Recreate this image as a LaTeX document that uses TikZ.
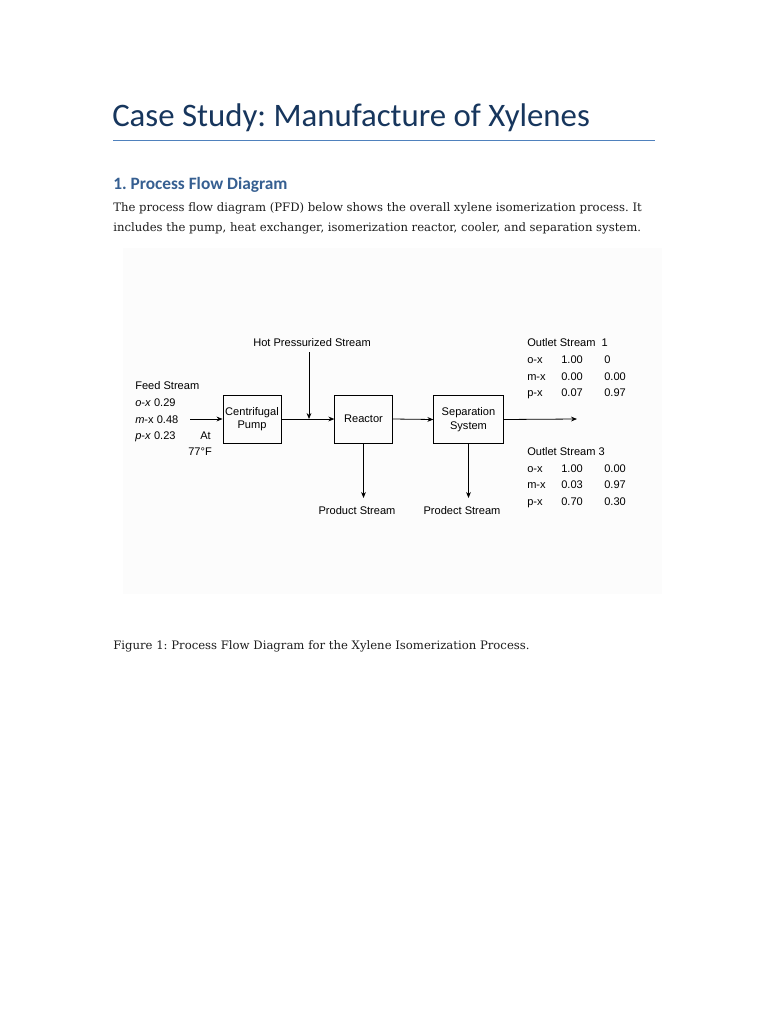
\documentclass[tikz,border=0pt]{standalone}
\usepackage{fontspec}
\setmainfont{DejaVu Serif}
\newfontfamily\titlefont{Carlito}
\newfontfamily\pfdfont{Liberation Sans}
\usetikzlibrary{arrows.meta,positioning}
\definecolor{titleblue}{HTML}{17365D}
\definecolor{ruleblue}{HTML}{4F81BD}
\definecolor{headblue}{HTML}{365F91}
\definecolor{bodygrey}{HTML}{1E1E1E}
\frenchspacing
\tikzset{
  unitbox/.style={draw, line width=0.7pt, align=center, inner sep=0pt,
    font=\pfdfont\fontsize{8.3}{10}\selectfont},
  flow/.style={-{Stealth[length=4.5pt,width=3.6pt]}, line width=0.6pt},
  pfdtext/.style={anchor=base west, inner sep=0pt,
    font=\pfdfont\fontsize{8.3}{10}\selectfont},
  bodytext/.style={anchor=base west, inner sep=0pt, text=bodygrey,
    font=\fontsize{8.75}{11}\selectfont},
}
\begin{document}
\begin{tikzpicture}[x=0.75pt, y=-0.75pt]
	\useasboundingbox[fill=white] (0,0) rectangle (768,1024);
	\fill[black!1] (123,248) rectangle (662,594);

	% page heading
	\node[anchor=base west, inner sep=0pt, text=titleblue,
	  font=\titlefont\fontsize{24.6}{28}\selectfont] (title) at (112,127)
	  {Case Study: Manufacture of Xylenes};
	\draw[ruleblue, line width=0.75pt] (113,140) -- (655,140);
	\node[anchor=base west, inner sep=0pt, text=headblue,
	  font=\titlefont\bfseries\fontsize{13}{16}\selectfont] (sec) at (113,189)
	  {1. Process Flow Diagram};
	\node[bodytext] (line1) at (113,211)
	  {The process flow diagram (PFD) below shows the overall xylene isomerization process. It};
	\node[bodytext] (line2) at (113,231)
	  {includes the pump, heat exchanger, isomerization reactor, cooler, and separation system.};

	% units
	\node[unitbox, minimum width=43.5pt, minimum height=36pt] (pump) at (252,419) {Centrifugal\\Pump};
	\node[unitbox, minimum width=43pt, minimum height=36pt] (reactor) at (363.5,419) {Reactor};
	\node[unitbox, minimum width=52pt, minimum height=35.5pt] (sep) at (468.5,419.5) {Separation\\System};

	% feed
	\node[pfdtext] (feed) at (135,389) {Feed Stream};
	\node[pfdtext] (feedo) at (135,406) {\textit{o}-\textit{x} 0.29};
	\node[pfdtext] (feedm) at (135,423) {\textit{m}-x 0.48};
	\node[pfdtext] (feedp) at (135,439) {\textit{p}-\textit{x} 0.23};
	\node[pfdtext] (feedat) at (200,439) {At};
	\node[pfdtext] (feedt) at (188,455) {77°F};
	\coordinate (feedin) at (190,419);
	\draw[flow] (feedin) -- (pump.west);

	% hot stream
	\node[pfdtext, anchor=base] (hot) at (312,346) {Hot Pressurized Stream};
	\coordinate (hottop) at (309,352);
	\coordinate (mix) at (309,419);
	\draw[flow] (hottop) -- (mix);
	\draw[flow] (pump.east) -- (reactor.west);
	\draw[flow] (reactor.east) -- (sep.west);

	% product streams
	\node[pfdtext, anchor=base] (prod1) at (357,514) {Product Stream};
	\node[pfdtext, anchor=base] (prod2) at (462,514) {Prodect Stream};
	\coordinate (prod1top) at (reactor.south |- 0,498);
	\coordinate (prod2top) at (sep.south |- 0,498);
	\draw[flow] (reactor.south) -- (prod1top);
	\draw[flow] (sep.south) -- (prod2top);

	% outlet
	\coordinate (outlet) at (577,419);
	\draw[flow] (sep.east) -- (outlet);

	\node[pfdtext] (out1) at (527,346) {Outlet Stream\ \ 1};
	\node[pfdtext] (o1a) at (527,363) {o-x};
	\node[pfdtext] (o1b) at (561,363) {1.00};
	\node[pfdtext] (o1c) at (604,363) {0};
	\node[pfdtext] (m1a) at (527,380) {m-x};
	\node[pfdtext] (m1b) at (561,380) {0.00};
	\node[pfdtext] (m1c) at (604,380) {0.00};
	\node[pfdtext] (p1a) at (527,396) {p-x};
	\node[pfdtext] (p1b) at (561,396) {0.07};
	\node[pfdtext] (p1c) at (604,396) {0.97};

	\node[pfdtext] (out3) at (527,455) {Outlet Stream 3};
	\node[pfdtext] (o3a) at (527,472) {o-x};
	\node[pfdtext] (o3b) at (561,472) {1.00};
	\node[pfdtext] (o3c) at (604,472) {0.00};
	\node[pfdtext] (m3a) at (527,488) {m-x};
	\node[pfdtext] (m3b) at (561,488) {0.03};
	\node[pfdtext] (m3c) at (604,488) {0.97};
	\node[pfdtext] (p3a) at (527,505) {p-x};
	\node[pfdtext] (p3b) at (561,505) {0.70};
	\node[pfdtext] (p3c) at (604,505) {0.30};

	% caption
	\node[bodytext] (cap) at (113,649)
	  {Figure 1: Process Flow Diagram for the Xylene Isomerization Process.};
\end{tikzpicture}
\end{document}
